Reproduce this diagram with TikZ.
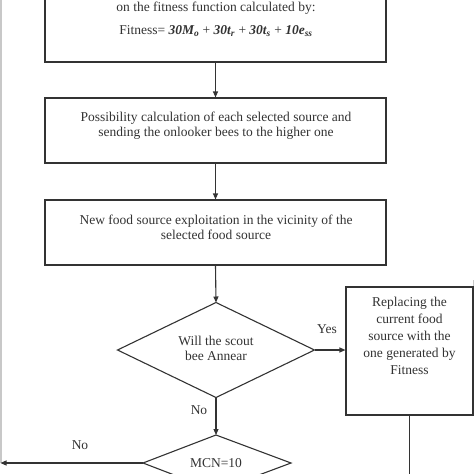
\documentclass[tikz,border=0pt]{standalone}
\usepackage{fontspec}
\setmainfont{Liberation Serif}
\usetikzlibrary{arrows.meta,shapes.geometric}
\definecolor{ink}{HTML}{333333}
\definecolor{edge}{HTML}{C8C8C8}
\tikzset{
  procbox/.style={draw=ink, line width=1.1pt, rectangle, inner sep=0pt},
  txt/.style={text=ink, font=\fontsize{13.5}{15}\selectfont, inner sep=0pt, align=center},
  flow/.style={draw=ink, line width=1.1pt, -{Triangle[length=6pt,width=5pt]}},
  plain/.style={draw=ink, line width=1.1pt}
}
\begin{document}
\begin{tikzpicture}[x=1pt,y=-1pt]
\useasboundingbox (0,0) rectangle (474,474);
\clip (0,0) rectangle (474,474);
\fill[white] (0,0) rectangle (474,474);
% page edge
\draw[edge, line width=2pt] (1,0) -- (1,463);
\draw[edge, line width=1.5pt] (473.5,280) -- (473.5,288);
% boxes
\node[procbox, minimum width=341pt, minimum height=87pt] (b1) at (215.5,18.5) {};
\node[txt] (t1a) at (216,8) {on the fitness function calculated by:};
\node[txt] (t1b) at (216,31) {Fitness= \textbf{\textit{30M\textsubscript{o}}} + \textbf{\textit{30t\textsubscript{r}}} + \textbf{\textit{30t\textsubscript{s}}} + \textbf{\textit{10e\textsubscript{ss}}}};
\node[procbox, minimum width=341pt, minimum height=65pt] (b2) at (215.5,130.5) {};
\node[txt] (t2) at (216,125.5) {Possibility calculation of each selected source and\\sending the onlooker bees to the higher one};
\node[procbox, minimum width=341pt, minimum height=65pt] (b3) at (215.5,232.5) {};
\node[txt] (t3) at (216,227.5) {New food source exploitation in the vicinity of the\\selected food source};
\node[procbox, minimum width=127pt, minimum height=128pt] (b4) at (409.5,351) {};
\node[txt, font=\fontsize{13.5}{17}\selectfont] (t4) at (409.5,335.5) {Replacing the\\current food\\source with the\\one generated by\\Fitness};
% decisions
\draw[plain] (216,302.5) coordinate (d1n) -- (314.5,350) coordinate (d1e) -- (216,397.5) coordinate (d1s) -- (117.5,350) coordinate (d1w) -- cycle;
\node[txt] (d1) at (216,348.5) {Will the scout\\bee Annear};
\draw[plain] (216,435) coordinate (d2n) -- (291,463) coordinate (d2e) -- (216,491) coordinate (d2s) -- (143,463) coordinate (d2w) -- cycle;
\node[txt] (d2) at (216,463) {MCN=10};
% connectors
\draw[flow] (b1.south) -- (b2.north);
\draw[flow] (b2.south) -- (b3.north);
\draw[flow] (b3.south) -- (d1n);
\draw[flow] (d1e) -- (b4.west |- d1e);
\draw[flow] (d1s) -- (d2n);
\draw[flow] (d2w) -- (0.5,463) coordinate (outl);
\coordinate (down4) at (409.5,480);
\draw[plain] (b4.south) -- (down4);
% labels
\node[txt] (yes) at (327,329) {Yes};
\node[txt] (no1) at (199,410) {No};
\node[txt] (no2) at (80,445) {No};
\end{tikzpicture}
\end{document}
